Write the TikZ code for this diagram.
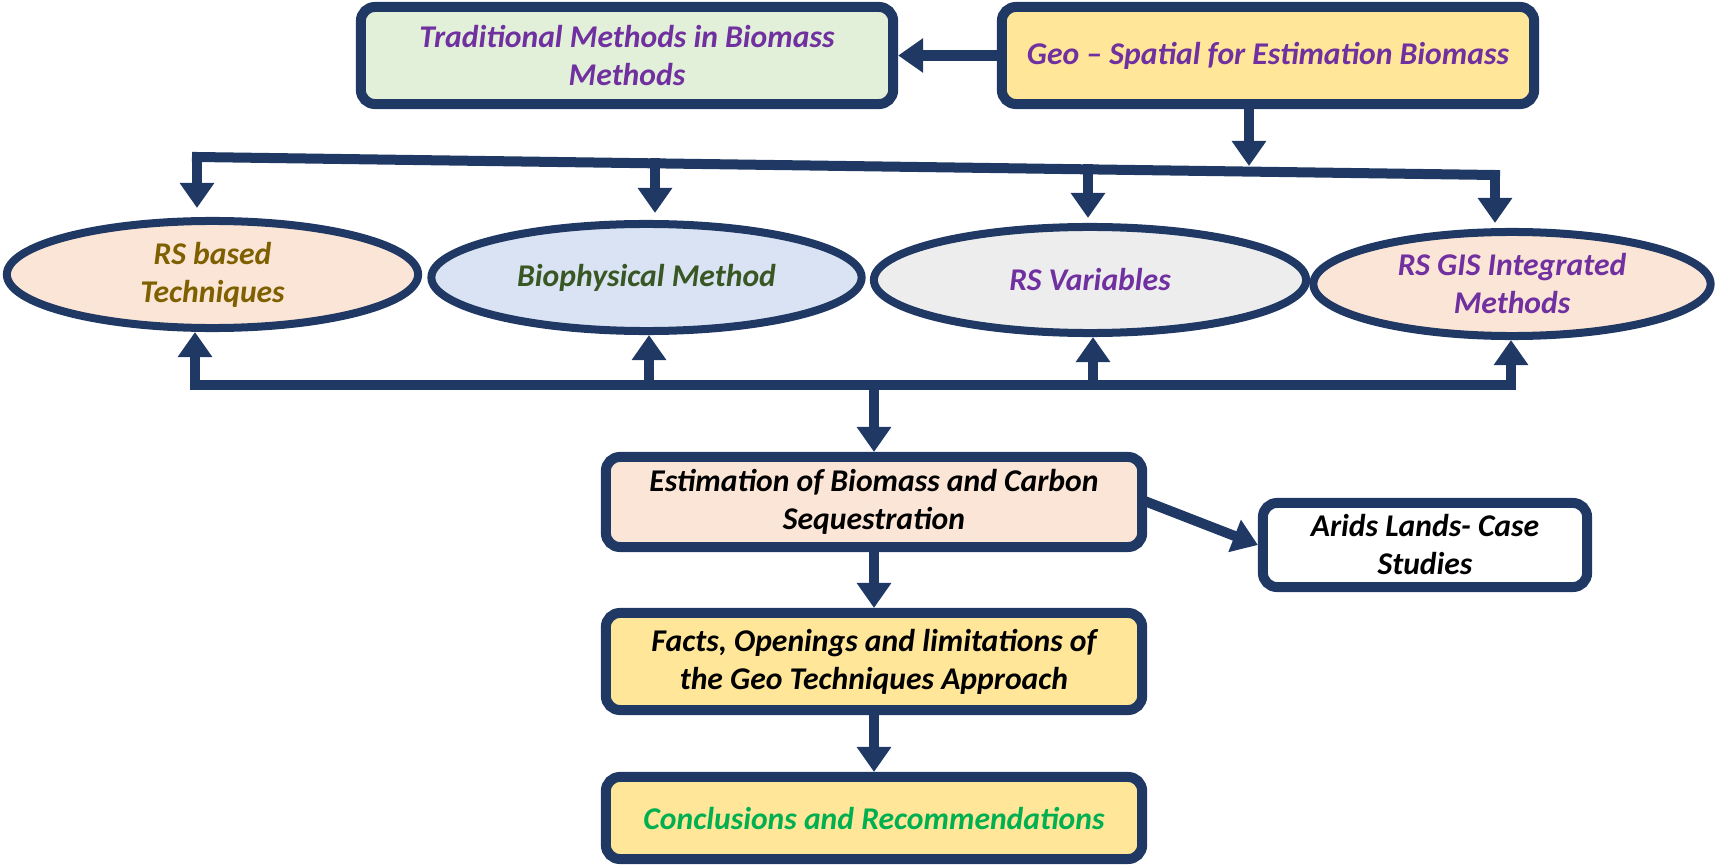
\documentclass[tikz,border=0pt]{standalone}
\usepackage{fontspec}
\setmainfont{Carlito}
\usepackage{tikz}
\usetikzlibrary{arrows.meta, positioning, calc, shapes.geometric}

\definecolor{navy}{HTML}{1F3864}
\definecolor{purp}{HTML}{7030A0}
\definecolor{rsbrown}{HTML}{7F6000}
\definecolor{biogreen}{HTML}{385723}
\definecolor{conclgreen}{HTML}{00B050}
\definecolor{tradfill}{HTML}{E2F0D9}
\definecolor{goldfill}{HTML}{FFE699}
\definecolor{peachfill}{HTML}{FBE5D6}
\definecolor{bluefill}{HTML}{DAE3F3}
\definecolor{greyfill}{HTML}{EDEDED}

\begin{document}
\begin{tikzpicture}[x=0.01cm, y=-0.01cm,
		every node/.style={font=\fontsize{9}{10.8}\selectfont\bfseries\itshape, align=center},
		box/.style={draw=navy, line width=0.1cm, rounded corners=4pt, inner sep=2pt},
		oval/.style={draw=navy, ellipse, line width=0.08cm, inner sep=1pt},
		conn/.style={draw=navy, line width=0.1cm, line cap=rect},
		arr/.style={conn, -{Triangle[length=0.25cm, width=0.33cm]}}]
	\useasboundingbox (0,0) rectangle (1718,867);

	% Top row
	\node[box, fill=tradfill, text=purp, minimum width=5.32cm, minimum height=0.97cm] (trad) at (627,55.5) {Traditional Methods in Biomass\\Methods};
	\node[box, fill=goldfill, text=purp, minimum width=5.32cm, minimum height=0.97cm] (geo) at (1268,55.5) {Geo – Spatial for Estimation Biomass};
	\draw[arr] (geo.west) -- (trad.east);

	% Methods
	\node[oval, fill=peachfill, text=rsbrown, minimum width=4.11cm, minimum height=1.07cm] (rsb) at (212.5,274.5) {RS based\\Techniques};
	\node[oval, fill=bluefill, text=biogreen, minimum width=4.30cm, minimum height=1.07cm] (bio) at (646.5,277.5) {Biophysical Method};
	\node[oval, fill=greyfill, text=purp, minimum width=4.32cm, minimum height=1.06cm] (rsv) at (1090,280) {RS Variables};
	\node[oval, fill=peachfill, text=purp, minimum width=3.97cm, minimum height=1.04cm] (gis) at (1512,284) {RS GIS Integrated\\Methods};

	% upper bus
	\coordinate (t1) at (197,157);
	\coordinate (t2) at (655,163.4);
	\coordinate (t3) at (1088,169.3);
	\coordinate (t4) at (1495,175);
	\coordinate (tg) at (1249,166);
	\draw[conn] (t1) -- (t4);
	\draw[arr] (geo.south -| tg) -- (tg);
	\draw[arr, shorten >=0.09cm] (t1) -- (t1 |- rsb.north);
	\draw[arr, shorten >=0.07cm] (t2) -- (t2 |- bio.north);
	\draw[arr, shorten >=0.05cm] (t3) -- (t3 |- rsv.north);
	\draw[arr, shorten >=0.05cm] (t4) -- (t4 |- gis.north);

	% lower bus
	\coordinate (b1) at (195,385);
	\coordinate (b2) at (649,385);
	\coordinate (b3) at (1093,385);
	\coordinate (b4) at (1511,385);
	\coordinate (bm) at (874,385);
	\draw[conn] (b1) -- (b4);
	\draw[arr] (b1) -- (b1 |- rsb.south);
	\draw[arr] (b2) -- (b2 |- bio.south);
	\draw[arr] (b3) -- (b3 |- rsv.south);
	\draw[arr] (b4) -- (b4 |- gis.south);

	% Results
	\node[box, fill=peachfill, text=black, minimum width=5.36cm, minimum height=0.90cm] (est) at (874,502) {Estimation of Biomass and Carbon\\Sequestration};
	\node[box, fill=white, text=black, minimum width=3.24cm, minimum height=0.84cm] (arids) at (1425,545) {Arids Lands- Case\\Studies};
	\node[box, fill=goldfill, text=black, minimum width=5.36cm, minimum height=0.97cm] (facts) at (874,661.5) {Facts, Openings and limitations of\\the Geo Techniques Approach};
	\node[box, fill=goldfill, text=conclgreen, minimum width=5.36cm, minimum height=0.82cm] (concl) at (874,818) {Conclusions and Recommendations};
	\draw[arr] (bm) -- (est.north);
	\draw[arr] (est.east) -- (arids.west);
	\draw[arr] (est.south) -- (facts.north);
	\draw[arr] (facts.south) -- (concl.north);
\end{tikzpicture}
\end{document}
